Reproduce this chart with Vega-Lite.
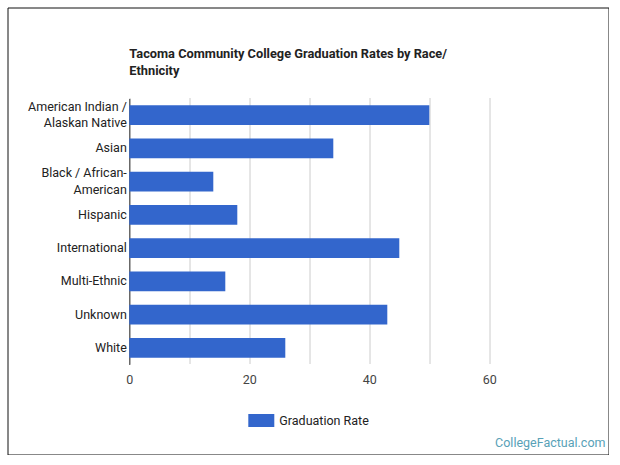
{
  "$schema": "https://vega.github.io/schema/vega-lite/v6.json",
  "autosize": {"type": "none"},
  "padding": {"left": 7.5, "top": 7.5, "right": 0, "bottom": 0},
  "width": 601,
  "height": 447,
  "background": "white",
  "title": {
    "text": ["Tacoma Community College Graduation Rates by Race/", "Ethnicity"],
    "anchor": "start",
    "frame": "group",
    "orient": "top",
    "dx": 121.8,
    "offset": -70,
    "font": "Roboto",
    "fontSize": 12.8,
    "fontWeight": "bold",
    "color": "#222",
    "lineHeight": 16.5
  },
  "data": {
    "values": [
      {"race": "American Indian / Alaskan Native", "rate": 50},
      {"race": "Asian", "rate": 34},
      {"race": "Black / African-American", "rate": 14},
      {"race": "Hispanic", "rate": 18},
      {"race": "International", "rate": 45},
      {"race": "Multi-Ethnic", "rate": 16},
      {"race": "Unknown", "rate": 43},
      {"race": "White", "rate": 26}
    ]
  },
  "mark": {"type": "bar"},
  "encoding": {
    "y": {
      "field": "race",
      "type": "nominal",
      "sort": null,
      "scale": {"range": [91, 357], "paddingInner": 0.4, "paddingOuter": 0.2},
      "axis": {
        "title": null,
        "offset": -121.8,
        "ticks": false,
        "tickSize": 0,
        "labelPadding": 3,
        "labelFont": "Roboto",
        "labelFontSize": 12.5,
        "labelColor": "#222",
        "labelLineHeight": 16.5,
        "labelLimit": 200,
        "labelOffset": {
          "condition": {"test": "datum.value == 'American Indian / Alaskan Native' || datum.value == 'Black / African-American'", "value": -8.25},
          "value": 0
        },
        "labelExpr": "datum.label == 'American Indian / Alaskan Native' ? ['American Indian /', 'Alaskan Native'] : datum.label == 'Black / African-American' ? ['Black / African-', 'American'] : datum.label",
        "domain": true,
        "domainColor": "#333",
        "domainWidth": 1,
        "grid": false
      }
    },
    "x": {
      "field": "rate",
      "type": "quantitative",
      "scale": {"domain": [0, 60], "range": [121.8, 481.8], "nice": false},
      "axis": {
        "values": [0, 10, 20, 30, 40, 50, 60],
        "labelExpr": "datum.value % 20 === 0 ? datum.label : ''",
        "labelFlush": false,
        "offset": -90,
        "ticks": false,
        "tickSize": 0,
        "domain": false,
        "grid": true,
        "gridColor": "#cccccc",
        "gridWidth": 1,
        "labelPadding": 9,
        "labelFont": "Roboto",
        "labelFontSize": 12.5,
        "labelColor": "#444",
        "title": "CollegeFactual.com",
        "titleFont": "Roboto",
        "titleFontSize": 12.5,
        "titleFontWeight": "normal",
        "titleColor": "#58a1b7",
        "titleAnchor": null,
        "titleAlign": "right",
        "titleBaseline": "middle",
        "titleX": 597.5,
        "titleY": 77.5
      }
    },
    "color": {
      "datum": "Graduation Rate",
      "type": "nominal",
      "scale": {"range": ["#3366cc"]},
      "legend": {
        "title": null,
        "orient": "none",
        "legendX": 240.8,
        "legendY": 400,
        "padding": 0,
        "symbolType": "M-1,-0.5H1V0.5H-1Z",
        "symbolSize": 676,
        "symbolStrokeWidth": 0,
        "labelOffset": 5,
        "labelFont": "Roboto",
        "labelFontSize": 12.5,
        "labelColor": "#222"
      }
    }
  },
  "config": {
    "view": {"stroke": "#111", "strokeWidth": 1},
    "font": "Roboto"
  }
}
